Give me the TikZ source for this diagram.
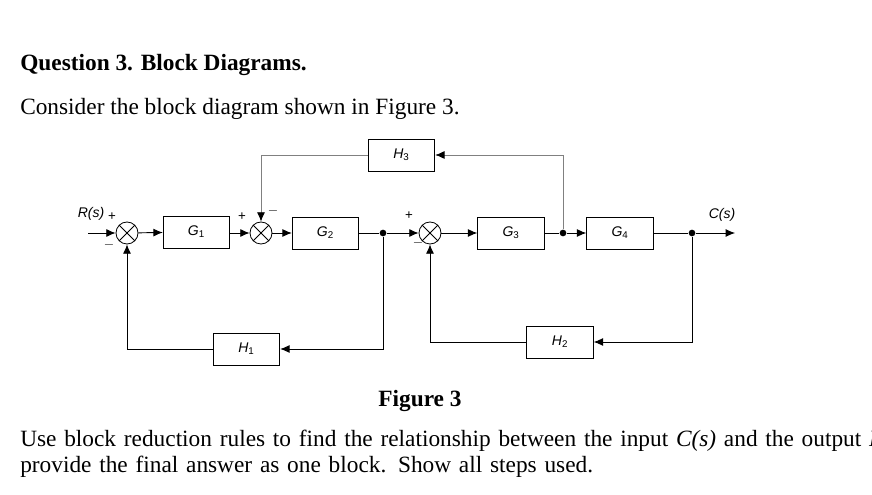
\documentclass[tikz,border=0pt]{standalone}
\usepackage{fontspec}
\usetikzlibrary{arrows.meta}
\setmainfont{Liberation Serif}
\newfontfamily\dsans{Liberation Sans}
\newcommand{\dsub}[2]{#1\textsubscript{\upshape #2}}
\begin{document}
\begin{tikzpicture}[x=0.75pt,y=-0.75pt,>={Latex[length=7pt,width=6pt]},
  blk/.style={draw,line width=0.6pt,minimum width=50pt,minimum height=24pt,inner sep=0pt,font=\dsans\itshape\fontsize{10.5}{12}\selectfont},
  sum/.style={draw,circle,line width=0.6pt,minimum size=16.5pt,inner sep=0pt,path picture={\draw[line width=0.6pt] (path picture bounding box.north west)--(path picture bounding box.south east)(path picture bounding box.north east)--(path picture bounding box.south west);}},
  ln/.style={line width=0.7pt},
  gl/.style={line width=0.6pt,draw=gray},
  dot/.style={circle,fill,inner sep=0pt,minimum size=5pt},
  sg/.style={font=\dsans\fontsize{10}{12}\selectfont},
  lbl/.style={font=\dsans\itshape\fontsize{10.5}{12}\selectfont},
  txt/.style={inner sep=0pt,font=\fontsize{17.5}{20}\selectfont}]
\useasboundingbox (0,0) rectangle (872,495);
\node[anchor=west,txt,font=\bfseries\fontsize{17.5}{20}\selectfont] (t1) at (20,65) {Question 3. Block Diagrams.};
\node[anchor=west,txt] (t2) at (20,109) {Consider the block diagram shown in Figure 3.};
\node[txt,font=\bfseries\fontsize{17.5}{20}\selectfont] (fig) at (420,401) {Figure 3};
\node[anchor=north west,align=left,txt,text width=800pt,font=\fontsize{17.5}{19.5}\selectfont] (t3) at (20,430) {Use block reduction rules to find the relationship between the input \textit{C(s)} and the output \textit{R(s)} and\\provide the final answer as one block. Show all steps used.};

\node[sum] (s1) at (127,233) {};
\node[blk] (g1) at (196.5,232) {\dsub{G}{1}};
\node[sum] (s2) at (261,233) {};
\node[blk] (g2) at (325.5,233) {\dsub{G}{2}};
\node[dot] (j1) at (383,233) {};
\node[sum] (s3) at (430,233) {};
\node[blk] (g3) at (511,233) {\dsub{G}{3}};
\node[dot] (j2) at (563,233) {};
\node[blk] (g4) at (620,233) {\dsub{G}{4}};
\node[dot] (j3) at (692,233) {};
\coordinate (out) at (735,233);
\coordinate (in) at (88,233);
\node[blk] (h3) at (401.5,155) {\dsub{H}{3}};
\node[blk] (h1) at (246.5,349) {\dsub{H}{1}};
\node[blk] (h2) at (560,342) {\dsub{H}{2}};

\draw[ln,->] (in) -- (s1);
\draw[ln,->] (s1) -- (g1);
\draw[ln,->] (g1.east|-s2) -- (s2);
\draw[ln,->] (s2) -- (g2.west|-s2);
\draw[ln] (g2) -- (j1);
\draw[ln,->] (j1) -- (s3);
\draw[ln,->] (s3) -- (g3);
\draw[ln] (g3) -- (j2);
\draw[ln,->] (j2) -- (g4);
\draw[ln] (g4) -- (j3);
\draw[ln,->] (j3) -- (out);
\draw[gl,-{Latex[length=7pt,width=6pt,black]}] (j2) |- (h3.east);
\draw[gl,-{Latex[length=7pt,width=6pt,black]}] (h3.west) -| (s2.north);
\draw[ln,->] (j1) |- (h1.east);
\draw[ln,->] (h1.west) -| (s1.south);
\draw[ln,->] (j3) |- (h2.east);
\draw[ln,->] (h2.west) -| (s3.south);

\node[lbl] (rs) at (91,214) {R(s)};
\node[lbl] (cs) at (722,215) {C(s)};
\node[sg] (p1) at (112,217) {+};
\node[sg] (m1) at (109,245) {$-$};
\node[sg] (p2) at (242,217) {+};
\node[sg] (m2) at (273,211) {$-$};
\node[sg] (p3) at (409,216) {+};
\node[sg] (m3) at (418,243) {$-$};
\end{tikzpicture}
\end{document}
